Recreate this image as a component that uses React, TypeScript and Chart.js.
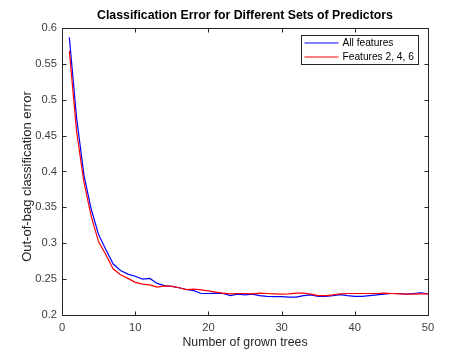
import React, { useEffect, useRef } from "react";
import { Chart, registerables } from "chart.js";

Chart.register(...registerables);

const TITLE = "Classification Error for Different Sets of Predictors";
const X_LABEL = "Number of grown trees";
const Y_LABEL = "Out-of-bag classification error";

const TREES = [
  1, 2, 3, 4, 5, 6, 7, 8, 9, 10,
  11, 12, 13, 14, 15, 16, 17, 18, 19, 20,
  21, 22, 23, 24, 25, 26, 27, 28, 29, 30,
  31, 32, 33, 34, 35, 36, 37, 38, 39, 40,
  41, 42, 43, 44, 45, 46, 47, 48, 49, 50,
];

const ALL_FEATURES = [
  0.587, 0.474, 0.395, 0.347, 0.312, 0.291, 0.271, 0.262, 0.257, 0.254,
  0.250, 0.251, 0.244, 0.241, 0.240, 0.238, 0.2355, 0.234, 0.230, 0.230,
  0.2305, 0.230, 0.227, 0.229, 0.228, 0.229, 0.227, 0.226, 0.2255, 0.2255,
  0.225, 0.225, 0.227, 0.228, 0.226, 0.226, 0.227, 0.2285, 0.227, 0.226,
  0.226, 0.227, 0.228, 0.229, 0.230, 0.230, 0.229, 0.230, 0.231, 0.2295,
];

const FEATURES_246 = [
  0.568, 0.455, 0.385, 0.337, 0.302, 0.284, 0.264, 0.256, 0.251, 0.2455,
  0.243, 0.242, 0.239, 0.2405, 0.240, 0.238, 0.2355, 0.236, 0.235, 0.2335,
  0.232, 0.2305, 0.2295, 0.230, 0.230, 0.2295, 0.2305, 0.230, 0.2295, 0.229,
  0.2295, 0.2305, 0.2305, 0.229, 0.227, 0.227, 0.228, 0.2295, 0.230, 0.230,
  0.230, 0.230, 0.230, 0.2305, 0.230, 0.2295, 0.229, 0.229, 0.2295, 0.2295,
];

const SERIES_LABELS = ["All features", "Features 2, 4, 6"];
const SERIES_COLORS = ["#0000FF", "#FF0000"];

const X_TICKS = [0, 10, 20, 30, 40, 50];
const Y_TICKS = [0.2, 0.25, 0.3, 0.35, 0.4, 0.45, 0.5, 0.55, 0.6];

const FONT = "'Liberation Sans', Arial, Helvetica, sans-serif";
const AXIS_COLOR = "#262626";
const TICK_LABEL_COLOR = "#404040";

const framePlugin = {
  id: "matlabFrame",
  afterDatasetsDraw(chart: any) {
    const { ctx, chartArea, scales } = chart;
    const L = Math.round(chartArea.left) + 0.5;
    const R = Math.round(chartArea.right) + 0.5;
    const T = Math.round(chartArea.top) + 0.5;
    const B = Math.round(chartArea.bottom) + 0.5;
    const tl = 4;
    ctx.save();
    ctx.strokeStyle = AXIS_COLOR;
    ctx.lineWidth = 1;
    ctx.beginPath();
    ctx.rect(L, T, R - L, B - T);
    X_TICKS.forEach((v) => {
      const px = Math.round(scales.x.getPixelForValue(v)) + 0.5;
      ctx.moveTo(px, B);
      ctx.lineTo(px, B - tl);
      ctx.moveTo(px, T);
      ctx.lineTo(px, T + tl);
    });
    Y_TICKS.forEach((v) => {
      const py = Math.round(scales.y.getPixelForValue(v)) + 0.5;
      ctx.moveTo(L, py);
      ctx.lineTo(L + tl, py);
      ctx.moveTo(R, py);
      ctx.lineTo(R - tl, py);
    });
    ctx.stroke();

    // y-axis label
    ctx.fillStyle = AXIS_COLOR;
    ctx.font = `13px ${FONT}`;
    ctx.textAlign = "center";
    ctx.textBaseline = "middle";
    ctx.translate(27, (chartArea.top + chartArea.bottom) / 2 + 5);
    ctx.rotate(-Math.PI / 2);
    ctx.fillText(Y_LABEL, 0, 0);
    ctx.restore();

    // legend
    ctx.save();
    ctx.font = `10.2px ${FONT}`;
    const maxW = Math.max(...SERIES_LABELS.map((s) => ctx.measureText(s).width));
    const boxW = Math.round(41 + maxW + 5);
    const boxH = 29;
    const bx = Math.round(chartArea.right) - 10 - boxW + 0.5;
    const by = Math.round(chartArea.top) + 7 + 0.5;
    ctx.fillStyle = "#FFFFFF";
    ctx.fillRect(bx, by, boxW, boxH);
    ctx.strokeStyle = AXIS_COLOR;
    ctx.lineWidth = 1;
    ctx.strokeRect(bx, by, boxW, boxH);
    SERIES_LABELS.forEach((label, i) => {
      const ry = Math.round(by + 7.5 + i * 14);
      ctx.beginPath();
      ctx.strokeStyle = SERIES_COLORS[i];
      ctx.lineWidth = 1;
      ctx.moveTo(bx + 3, ry);
      ctx.lineTo(bx + 37, ry);
      ctx.stroke();
      ctx.fillStyle = "#000000";
      ctx.textAlign = "left";
      ctx.textBaseline = "middle";
      ctx.fillText(label, bx + 41, ry);
    });
    ctx.restore();
  },
};

export default function App() {
  const canvasRef = useRef<HTMLCanvasElement | null>(null);

  useEffect(() => {
    if (!canvasRef.current) return;
    Chart.defaults.font.family = FONT;
    const chart = new Chart(canvasRef.current, {
      type: "line",
      data: {
        datasets: [
          {
            label: SERIES_LABELS[0],
            data: TREES.map((t, i) => ({ x: t, y: ALL_FEATURES[i] })),
            borderColor: SERIES_COLORS[0],
            backgroundColor: SERIES_COLORS[0],
            borderWidth: 1.2,
            pointRadius: 0,
            tension: 0,
            order: 1,
          },
          {
            label: SERIES_LABELS[1],
            data: TREES.map((t, i) => ({ x: t, y: FEATURES_246[i] })),
            borderColor: SERIES_COLORS[1],
            backgroundColor: SERIES_COLORS[1],
            borderWidth: 1.2,
            pointRadius: 0,
            tension: 0,
            order: 0,
          },
        ],
      },
      options: {
        responsive: false,
        animation: false,
        layout: { padding: { left: 0, right: 46, top: 0, bottom: 0 } },
        plugins: {
          legend: { display: false },
          tooltip: { enabled: false },
          title: {
            display: true,
            text: TITLE,
            fullSize: false,
            color: "#000000",
            font: { size: 12.3, weight: "bold", family: FONT, lineHeight: 1.2 },
            padding: { top: 8, bottom: 5.24 },
          },
        },
        scales: {
          x: {
            type: "linear",
            min: 0,
            max: 50,
            grid: { display: false, drawTicks: false },
            border: { display: false },
            afterBuildTicks: (scale: any) => {
              scale.ticks = X_TICKS.map((v) => ({ value: v }));
            },
            afterFit: (scale: any) => {
              scale.height = 40;
            },
            ticks: {
              color: TICK_LABEL_COLOR,
              padding: 5.8,
              maxRotation: 0,
              font: { size: 11.2, family: FONT, lineHeight: 1.2 },
              callback: (v: any) => String(v),
            },
            title: {
              display: true,
              text: X_LABEL,
              color: AXIS_COLOR,
              font: { size: 12.3, family: FONT, lineHeight: 1.2 },
              padding: { top: 0, bottom: 4.6 },
            },
          },
          y: {
            type: "linear",
            min: 0.2,
            max: 0.6,
            grid: { display: false, drawTicks: false },
            border: { display: false },
            afterBuildTicks: (scale: any) => {
              scale.ticks = Y_TICKS.map((v) => ({ value: v }));
            },
            afterFit: (scale: any) => {
              scale.width = 62;
            },
            ticks: {
              color: TICK_LABEL_COLOR,
              padding: 5,
              font: { size: 11.2, family: FONT, lineHeight: 1.2 },
              callback: (v: any) => String(Number(Number(v).toFixed(2))),
            },
          },
        },
      },
      plugins: [framePlugin],
    });
    return () => chart.destroy();
  }, []);

  return (
    <div style={{ position: "fixed", left: 0, top: 0, width: 474, height: 355, background: "#FFFFFF" }}>
      <canvas ref={canvasRef} width={474} height={355} />
    </div>
  );
}
